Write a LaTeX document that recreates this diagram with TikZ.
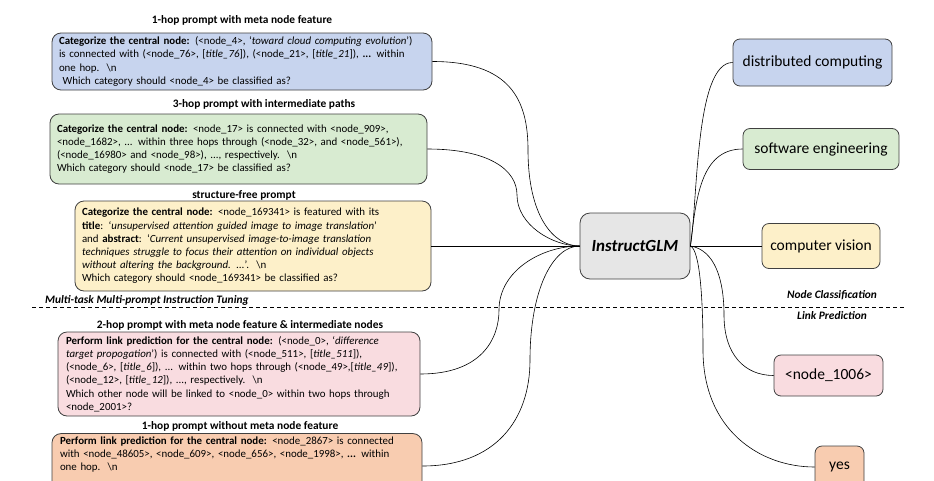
\documentclass[tikz,border=0pt]{standalone}
\usepackage{fontspec}
\setmainfont{Carlito}
\definecolor{cblue}{HTML}{C7D4EE}
\definecolor{cgreen}{HTML}{D8EBD1}
\definecolor{cyellow}{HTML}{FDF0C9}
\definecolor{cpink}{HTML}{F9DCE0}
\definecolor{csalmon}{HTML}{F8CCB0}
\definecolor{cgrey}{HTML}{E6E6E6}
\definecolor{cborder}{HTML}{404040}
\begin{document}
\begin{tikzpicture}[x=1pt,y=-1pt,
  pbox/.style={draw=cborder, line width=0.8pt, rounded corners=9pt, align=left,
    inner xsep=7pt, inner ysep=3pt, font=\fontsize{10.9}{13.2}\selectfont},
  rbox/.style={draw=cborder, line width=0.8pt, rounded corners=7pt, align=center,
    inner sep=0pt, font=\fontsize{15.5}{18}\selectfont},
  ptitle/.style={font=\fontsize{11.4}{13}\selectfont\bfseries, inner sep=0pt},
  sectlabel/.style={font=\fontsize{11.4}{13}\selectfont\bfseries\itshape, inner sep=0pt},
  conn/.style={draw=black, line width=0.6pt}]
\useasboundingbox (0,0) rectangle (934,480);

% prompt titles
\node[ptitle] (t1) at (242,20) {1-hop prompt with meta node feature};
\node[ptitle] (t2) at (264,104) {3-hop prompt with intermediate paths};
\node[ptitle] (t3) at (244,195) {structure-free prompt};
\node[ptitle] (t4) at (240,325) {2-hop prompt with meta node feature \& intermediate nodes};
\node[ptitle] (t5) at (240,426) {1-hop prompt without meta node feature};

% prompt boxes
\node[pbox, fill=cblue, minimum width=380pt, minimum height=57pt, text width=366pt] (b1) at (242,61.5) {%
\textbf{Categorize the central node:} (<node\_4>, ‘\textit{toward cloud computing evolution}’)\\
is connected with (<node\_76>, [\textit{title\_76}]), (<node\_21>, [\textit{title\_21}]), \textbf{...} within\\
one hop.~~\textbackslash n\\
~Which category should <node\_4> be classified as?};

\node[pbox, fill=cgreen, minimum width=377pt, minimum height=70pt, text width=363pt] (b2) at (238.5,149) {%
\textbf{Categorize the central node:} <node\_17> is connected with <node\_909>,\\
<node\_1682>, ... within three hops through (<node\_32>, and <node\_561>),\\
(<node\_16980> and <node\_98>), ..., respectively.~~\textbackslash n\\
Which category should <node\_17> be classified as?};

\node[pbox, fill=cyellow, minimum width=356pt, minimum height=90pt, text width=342pt] (b3) at (253,246) {%
\textbf{Categorize the central node:} <node\_169341> is featured with its\\
\textbf{title}: ‘\textit{unsupervised attention guided image to image translation}’\\
and \textbf{abstract}: ‘\textit{Current unsupervised image-to-image translation}\\
\textit{techniques struggle to focus their attention on individual objects}\\
\textit{without altering the background. ...}’.~~\textbackslash n\\
Which category should <node\_169341> be classified as?};

\node[pbox, fill=cpink, minimum width=362pt, minimum height=84pt, text width=346pt, inner xsep=8pt] (b4) at (239,374) {%
\textbf{Perform link prediction for the central node:} (<node\_0>, ‘\textit{difference}\\
\textit{target propogation}’) is connected with (<node\_511>, [\textit{title\_511}]),\\
(<node\_6>, [\textit{title\_6}]), ... within two hops through (<node\_49>,[\textit{title\_49}]),\\
(<node\_12>, [\textit{title\_12}]), ..., respectively.~~\textbackslash n\\
Which other node will be linked to <node\_0> within two hops through\\
<node\_2001>?};

\node[pbox, fill=csalmon, minimum width=370pt, minimum height=62pt, text width=354pt, inner xsep=8pt] (b5) at (237,466) {%
\textbf{Perform link prediction for the central node:} <node\_2867> is connected\\
with <node\_48605>, <node\_609>, <node\_656>, <node\_1998>, \textbf{...} within\\
one hop.~~\textbackslash n\\
\rule{0pt}{22pt}};

% centre
\node[draw=cborder, line width=0.8pt, fill=cgrey, rounded corners=10pt, minimum width=110pt,
  minimum height=66pt, inner sep=0pt, font=\fontsize{17}{20}\selectfont\bfseries\itshape] (glm) at (635,246) {InstructGLM};

% right boxes
\node[rbox, fill=cblue, minimum width=159pt, minimum height=47pt] (r1) at (812.5,62.5) {distributed computing};
\node[rbox, fill=cgreen, minimum width=156pt, minimum height=41pt] (r2) at (821,149) {software engineering};
\node[rbox, fill=cyellow, minimum width=118pt, minimum height=45pt] (r3) at (821,246) {computer vision};
\node[rbox, fill=cpink, minimum width=109pt, minimum height=41pt] (r4) at (828.5,375.5) {<node\_1006>};
\node[rbox, fill=csalmon, minimum width=49pt, minimum height=42pt] (r5) at (839.5,467) {yes};

% section separators
\coordinate (dl) at (32,307);
\coordinate (dr) at (904,307);
\draw[dashed, line width=0.7pt, dash pattern=on 4pt off 3pt] (dl) -- (dr);
\node[sectlabel, anchor=west] (mt) at (45,300) {Multi-task Multi-prompt Instruction Tuning};
\node[sectlabel] (nc) at (832,295) {Node Classification};
\node[sectlabel] (lp) at (832,316) {Link Prediction};

% left connectors
\coordinate (k1) at (528,150);
\coordinate (k2) at (517,195);
\coordinate (k4) at (499,310);
\coordinate (k5) at (530,360);
\draw[conn] (b1.east) .. controls +(78,0) and +(0,-50) .. (k1) .. controls +(0,65) and +(-27,0) .. (glm.west);
\draw[conn] (b2.east) .. controls +(62,0) and +(0,-25) .. (k2) .. controls +(0,30) and +(-27,0) .. (glm.west);
\draw[conn] (b3.east) -- (glm.west);
\draw[conn] (b4.east) .. controls +(61,0) and +(0,29) .. (k4) .. controls +(0,-40) and +(-37,0) .. (glm.west);
\draw[conn] (b5.east) .. controls +(73,0) and +(0,60) .. (k5) .. controls +(0,-70) and +(-27,0) .. (glm.west);

% right connectors
\coordinate (q4) at (724,315);
\coordinate (q5) at (703,350);
\draw[conn] (glm.east) .. controls (698,200) and (695,62.5) .. (r1.west);
\draw[conn] (glm.east) .. controls (696,200) and (700,149) .. (r2.west);
\draw[conn] (glm.east) -- (r3.west);
\draw[conn] (glm.east) .. controls (715,250) and (724,280) .. (q4) .. controls (724,355) and (745,375.5) .. (r4.west);
\draw[conn] (glm.east) .. controls (700,250) and (703,300) .. (q5) .. controls (703,430) and (760,467) .. (r5.west);
\end{tikzpicture}
\end{document}
